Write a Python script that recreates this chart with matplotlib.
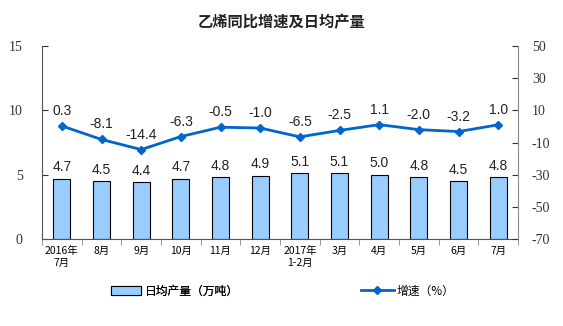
import matplotlib
matplotlib.use("Agg")
import matplotlib.pyplot as plt
import numpy as np
from matplotlib.lines import Line2D
from matplotlib.patches import Patch

plt.rcParams['font.family'] = ['Noto Sans CJK SC', 'DejaVu Sans']

categories = ["2016年\n7月", "8月", "9月", "10月", "11月", "12月", "2017年\n1-2月",
              "3月", "4月", "5月", "6月", "7月"]
output = [4.7, 4.5, 4.4, 4.7, 4.8, 4.9, 5.1, 5.1, 5.0, 4.8, 4.5, 4.8]
growth = [0.3, -8.1, -14.4, -6.3, -0.5, -1.0, -6.5, -2.5, 1.1, -2.0, -3.2, 1.0]
left_ticks = [0, 5, 10, 15]
right_ticks = [-70, -50, -30, -10, 10, 30, 50]

W, H = 563, 326
fig = plt.figure(figsize=(W / 100, H / 100), dpi=100)
ax = fig.add_axes([42 / W, 1 - 239 / H, (518 - 42) / W, (239 - 46) / H])
ax2 = ax.twinx()

x = np.arange(len(categories))
bar_color = '#99CCFF'
line_color = '#0066CC'

ax.bar(x, output, width=0.43, color=bar_color, edgecolor='black', linewidth=0.8, zorder=2)
for xi, v in zip(x, output):
    ax.text(xi, v + 0.35, f"{v:.1f}", ha='center', va='bottom', fontsize=10,
            family='Liberation Sans', color='#222222')

ax.set_ylim(0, 15)
ax.set_xlim(-0.5, len(categories) - 0.5)
ax.set_yticks(left_ticks)
ax.set_yticklabels([str(t) for t in left_ticks], family='Liberation Serif', fontsize=10)
ax.tick_params(axis='y', direction='in', length=4, pad=14, colors='#333333')

ax.set_xticks(x)
ax.set_xticklabels(categories, fontsize=7.5, linespacing=1.3)
ax.set_xticks(np.arange(-0.5, len(categories) + 0.5, 1), minor=True)
ax.tick_params(axis='x', which='major', length=0, pad=5)
ax.tick_params(axis='x', which='minor', length=4, direction='out', color='#888888')

ax2.plot(x, growth, color=line_color, marker='D', markersize=4.5, linewidth=2, zorder=3)
for xi, v in zip(x, growth):
    ax2.text(xi, v + 5, f"{v:.1f}", ha='center', va='bottom', fontsize=10,
             family='Liberation Sans', color='#222222')
ax2.set_ylim(-70, 50)
ax2.set_yticks(right_ticks)
ax2.set_yticklabels([str(t) for t in right_ticks], family='Liberation Serif', fontsize=10)
ax2.tick_params(axis='y', direction='in', length=4, pad=10, colors='#333333')

for a in (ax, ax2):
    a.spines['top'].set_visible(False)
for s in ('left', 'bottom'):
    ax.spines[s].set_color('#555555')
ax2.spines['right'].set_color('#888888')
ax2.spines['left'].set_visible(False)
ax2.spines['bottom'].set_visible(False)
ax.spines['right'].set_visible(False)

fig.text(0.5, 1 - 22 / H, "乙烯同比增速及日均产量", ha='center', va='center',
         fontsize=11, fontweight='bold', color='#222222')

h1 = Patch(facecolor=bar_color, edgecolor='black', linewidth=0.8)
h2 = Line2D([], [], color=line_color, marker='D', markersize=4, linewidth=2)
leg1 = fig.legend([h1], ["日均产量（万吨）"], loc='center left',
                  bbox_to_anchor=(100 / W, 1 - 291 / H), frameon=False, fontsize=8.5,
                  handlelength=2.6, handletextpad=0.3)
fig.add_artist(leg1)
fig.legend([h2], ["增速（%）"], loc='center left',
           bbox_to_anchor=(350 / W, 1 - 291 / H), frameon=False, fontsize=8.5,
           handlelength=2.8, handletextpad=0.2)

fig.savefig("out.png", dpi=100)
